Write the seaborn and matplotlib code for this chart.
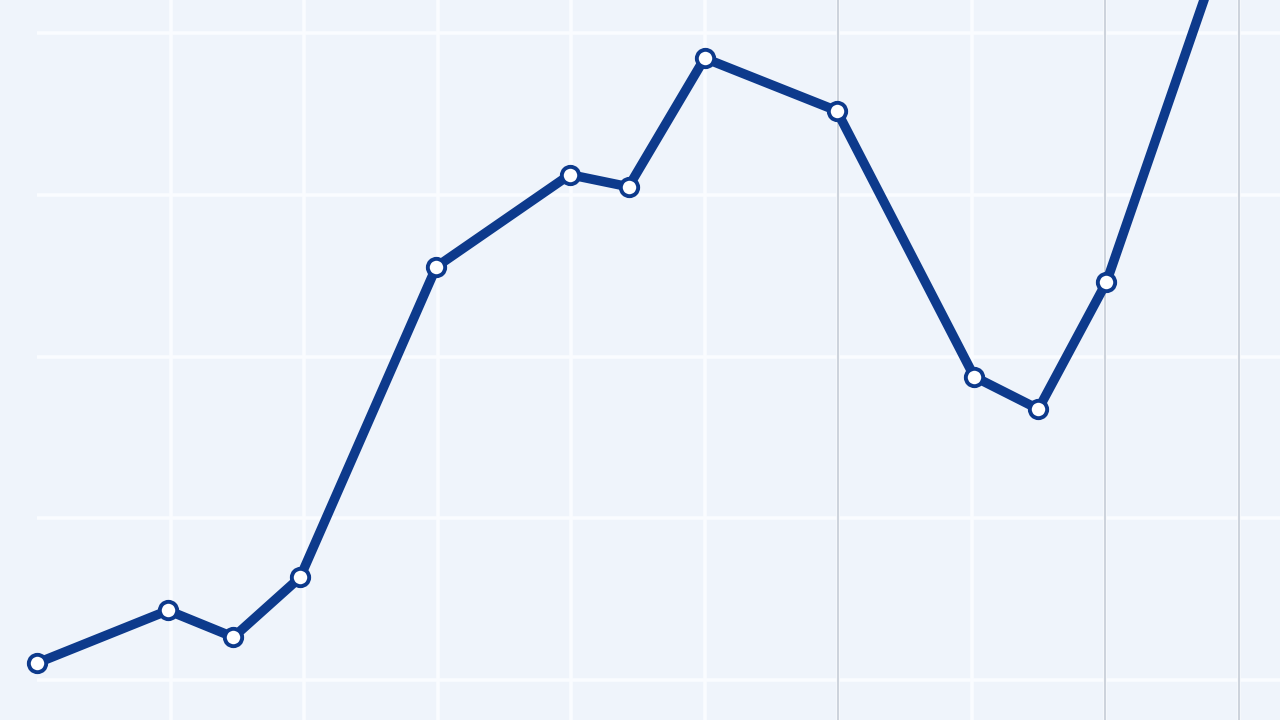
import numpy as np
import pandas as pd
import seaborn as sb
import matplotlib
matplotlib.use("Agg")
import matplotlib.pyplot as plt

# values
steps = [0, 0.98, 1.47, 1.97, 2.99, 3.99, 4.43, 5.0, 5.99, 7.02, 7.5, 8.01, 9.0]
values = [2.1, 8.6, 5.3, 12.7, 51.1, 62.5, 61.0, 76.9, 70.4, 37.5, 33.5, 49.2, 96.5]
x_ticks = list(range(1, 10))
y_ticks = [0, 20, 40, 60, 80]
dark_steps = [6, 8, 9]

df = pd.DataFrame({"step": steps, "value": values})

bg = "#eff4fb"
sb.set_style("whitegrid", {"axes.facecolor": bg, "grid.color": "#fbfdff",
                           "axes.edgecolor": bg})
fig = plt.figure(figsize=(12.8, 7.2), dpi=100)
fig.patch.set_facecolor(bg)
left = 37.2 / 1280
ax = fig.add_axes([left, 0, 1 - left, 1])

ax.set_xticks(x_ticks)
ax.set_yticks(y_ticks)
ax.grid(True, color="#fafcff", linewidth=2.6)
for s in dark_steps:
    ax.axvline(s, color="#cdd3dc", linewidth=1.5, zorder=1)

sb.lineplot(data=df, x="step", y="value", ax=ax, color="#0d3a8c", linewidth=6.8,
            marker="o", markersize=12.5, markerfacecolor="white",
            markeredgecolor="#0d3a8c", markeredgewidth=2.8, zorder=3,
            clip_on=False)

ax.set_xlim(0, 9.31)
ax.set_ylim(-4.95, 84.1)
ax.set_xlabel("")
ax.set_ylabel("")
ax.tick_params(left=False, bottom=False, labelleft=False, labelbottom=False)
for sp in ax.spines.values():
    sp.set_visible(False)

plt.savefig("out.png", dpi=100, facecolor=fig.get_facecolor())
